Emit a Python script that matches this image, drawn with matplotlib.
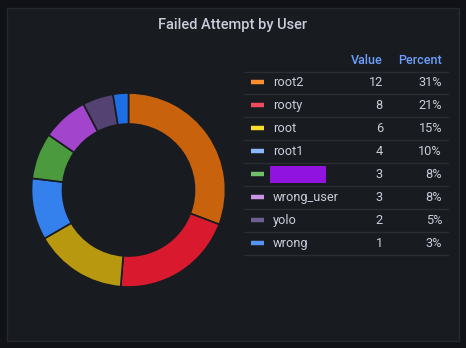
import matplotlib
matplotlib.use("Agg")
import matplotlib.pyplot as plt
from matplotlib.patches import Rectangle

plt.rcParams['font.family'] = ['Roboto', 'DejaVu Sans']

# ---- data ----
users = ["root2", "rooty", "root", "root1", "", "wrong_user", "yolo", "wrong"]
values = [12, 8, 6, 4, 3, 3, 2, 1]
percents = ["31%", "21%", "15%", "10%", "8%", "8%", "5%", "3%"]
pie_colors = ["#C8620C", "#D8192E", "#B7980E", "#3481EE", "#4B9A3D", "#A244CC", "#534272", "#1C6FE6"]
legend_colors = ["#FF8F2E", "#F2495C", "#FADE2A", "#8AB8FF", "#73BF69", "#CA95E5", "#6E5F93", "#5794F2"]
redacted = [False, False, False, False, True, False, False, False]
title = "Failed Attempt by User"

W, H = 466, 348
fig = plt.figure(figsize=(W / 100, H / 100), dpi=100)
fig.patch.set_facecolor("#111217")

# overlay axes in pixel coordinates (y down)
bg = fig.add_axes([0, 0, 1, 1])
bg.set_xlim(0, W)
bg.set_ylim(H, 0)
bg.axis("off")
bg.add_patch(Rectangle((7, 8), 452, 333, facecolor="#181B1F", edgecolor="#262930", lw=1))

bg.text(233, 25, title, color="#CCCCDC", fontsize=10.5, fontweight="medium",
        ha="center", va="center")

# legend table
txt = "#CCCCDC"
hdr = "#6E9FFF"
bg.text(383, 60, "Value", color=hdr, fontsize=9, fontweight="medium", ha="right", va="center")
bg.text(442, 60, "Percent", color=hdr, fontsize=9, fontweight="medium", ha="right", va="center")
row0, dy = 82.3, 23
bg.plot([244, 448], [71.5, 71.5], color="#2A2D33", lw=1)
for i, (u, v, p, c, r) in enumerate(zip(users, values, percents, legend_colors, redacted)):
    y = row0 + i * dy
    bg.plot([251, 264], [y, y], color=c, lw=3.2, solid_capstyle="butt")
    if r:
        bg.add_patch(Rectangle((270, y - 8.5), 56, 17, facecolor="#9013E0", edgecolor="none"))
    else:
        bg.text(273, y, u, color=txt, fontsize=9.2, ha="left", va="center")
    bg.text(383, y, str(v), color=txt, fontsize=9.2, ha="right", va="center")
    bg.text(442, y, p, color=txt, fontsize=9.2, ha="right", va="center")
    bg.plot([244, 448], [y + 11.5, y + 11.5], color="#2A2D33", lw=1)

# donut
cx, cy, R = 128.5, 190, 97
pax = fig.add_axes([(cx - R) / W, (H - cy - R) / H, 2 * R / W, 2 * R / H])
pax.pie(values, colors=pie_colors, startangle=90, counterclock=False,
        radius=1.0,
        wedgeprops=dict(width=31 / 97, edgecolor="#181B1F", linewidth=1.2))
pax.set_xlim(-1, 1)
pax.set_ylim(-1, 1)
pax.axis("off")

fig.savefig("out.png", dpi=100, facecolor=fig.get_facecolor())
